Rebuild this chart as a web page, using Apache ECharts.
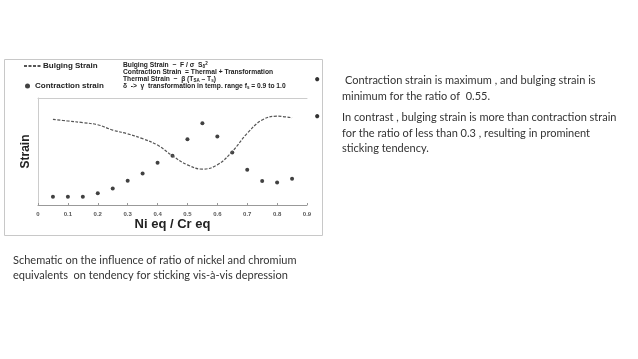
<!DOCTYPE html>
<html><head><meta charset="utf-8">
<script src="https://cdn.jsdelivr.net/npm/echarts@6/dist/echarts.min.js"></script>
<style>html,body{margin:0;padding:0;background:#fff}#c{width:638px;height:359px}</style>
</head><body><div id="c"></div>
<script>
var ratios = [0.05,0.10,0.15,0.20,0.25,0.30,0.35,0.40,0.45,0.50,0.55,0.60,0.65,0.70,0.75,0.80,0.85];
var bulgingStrain = [8.0,7.85,7.7,7.5,7.0,6.65,6.2,5.6,4.6,3.75,3.35,3.75,5.0,6.7,7.95,8.3,8.15];
var contractionStrain = [0.78,0.78,0.78,1.1,1.55,2.27,2.95,3.95,4.6,6.15,7.65,6.4,4.9,3.3,2.25,2.1,2.45];
var bulgingName = 'Bulging Strain';
var contractionName = 'Contraction strain';
var xName = 'Ni eq / Cr eq';
var yName = 'Strain';
var formulaLines = [
  'Bulging Strain  ~  F / \u03c3  S{sub|\u03b4}{sup|2}',
  'Contraction Strain  = Thermal + Transformation',
  'Thermal Strain  ~  \u03b2 (T{sub|SA} \u2013 T{sub|s})',
  '\u03b4  ->  \u03b3  transformation in temp. range f{sub|s} = 0.9 to 1.0'
];
var bullets = [
  ['Contraction strain is maximum , and bulging strain is', 'minimum for the ratio of  0.55.'],
  ['In contrast , bulging strain is more than contraction strain', 'for the ratio of less than 0.3 , resulting in prominent', 'sticking tendency.']
];
var caption = ['Schematic on the influence of ratio of nickel and chromium', 'equivalents  on tendency for sticking vis-\u00e0-vis depression'];

var chart = echarts.init(document.getElementById('c'), null, {renderer:'canvas'});
var bodyFont = 'Lato, "Open Sans", sans-serif';
var g = [];
g.push({type:'rect', shape:{x:4.5,y:59.5,width:318,height:176}, style:{fill:'none', stroke:'#c8c8c8', lineWidth:1}, z:0});
formulaLines.forEach(function(t,i){
  g.push({type:'text', left:123, top:61.5+i*7.2, style:{text:t, font:'bold 6.7px Arial, "Liberation Sans"', fill:'#222',
    rich:{sub:{font:'bold 4.5px Arial', fill:'#222', verticalAlign:'bottom', padding:[3,0,0,0]}, sup:{font:'bold 4.5px Arial', fill:'#222', padding:[0,0,3,0]}}}});
});
bullets.forEach(function(b, bi){
  var top = bi===0 ? 75 : 112;
  g.push({type:'text', left:314, top:top-1, style:{text:'\u2022', font:'11px '+bodyFont, fill:'#333'}});
  b.forEach(function(line, li){
    g.push({type:'text', left: (bi===0 && li===0) ? 345 : 342, top: top + li*15.5, style:{text: line, font:'11px '+bodyFont, fill:'#333'}});
  });
});
caption.forEach(function(line,i){
  g.push({type:'text', left:13, top:255+i*15, style:{text:line, font:'11px '+bodyFont, fill:'#333'}});
});

chart.setOption({
  animation:false,
  backgroundColor:'#fff',
  grid:{left:38, right:331, top:98, bottom:154},
  legend:[
    {data:[bulgingName], left:18, top:57, orient:'vertical', itemWidth:18, itemHeight:6, itemGap:2,
     itemStyle:{opacity:0},
     textStyle:{fontFamily:'Arial', fontWeight:'bold', fontSize:8, color:'#222', padding:[0,0,0,-4]}},
    {data:[contractionName], left:20, top:77, orient:'vertical', itemWidth:5, itemHeight:5,
     textStyle:{fontFamily:'Arial', fontWeight:'bold', fontSize:8, color:'#222'}}
  ],
  xAxis:[{
    type:'value', min:0, max:0.9, interval:0.1, position:'bottom',
    name:xName, nameLocation:'middle', nameGap:13,
    nameTextStyle:{fontFamily:'Arial', fontWeight:'bold', fontSize:13, color:'#222'},
    axisLine:{show:true, lineStyle:{color:'#999', width:1}},
    axisTick:{show:true, inside:true, length:2, lineStyle:{color:'#999'}},
    axisLabel:{fontFamily:'Arial', fontWeight:'bold', fontSize:6, color:'#555', margin:6,
      formatter:function(v){return v===0?'0':v.toFixed(1);}},
    splitLine:{show:false}
  },{
    type:'value', min:0, max:0.9, position:'top',
    axisLine:{show:true, lineStyle:{color:'#ccc', width:1}},
    axisTick:{show:false}, axisLabel:{show:false}, splitLine:{show:false}
  }],
  yAxis:{
    type:'value', min:0, max:10,
    name:yName, nameLocation:'middle', nameGap:6, nameRotate:90,
    nameTextStyle:{fontFamily:'Arial', fontWeight:'bold', fontSize:12, color:'#222'},
    axisLine:{show:true, lineStyle:{color:'#ccc', width:1}},
    axisTick:{show:false}, axisLabel:{show:false}, splitLine:{show:false}
  },
  series:[
    {name:bulgingName, type:'line', smooth:0.4, symbol:'none',
     data: ratios.map(function(r,i){return [r, bulgingStrain[i]];}),
     lineStyle:{color:'#555', width:1.2, type:[3,1.5]}, itemStyle:{color:'#555'}},
    {name:contractionName, type:'scatter', symbol:'circle', symbolSize:4,
     data: ratios.map(function(r,i){return [r, contractionStrain[i]];}),
     itemStyle:{color:'#111'}}
  ],
  graphic:g
});
</script></body></html>
